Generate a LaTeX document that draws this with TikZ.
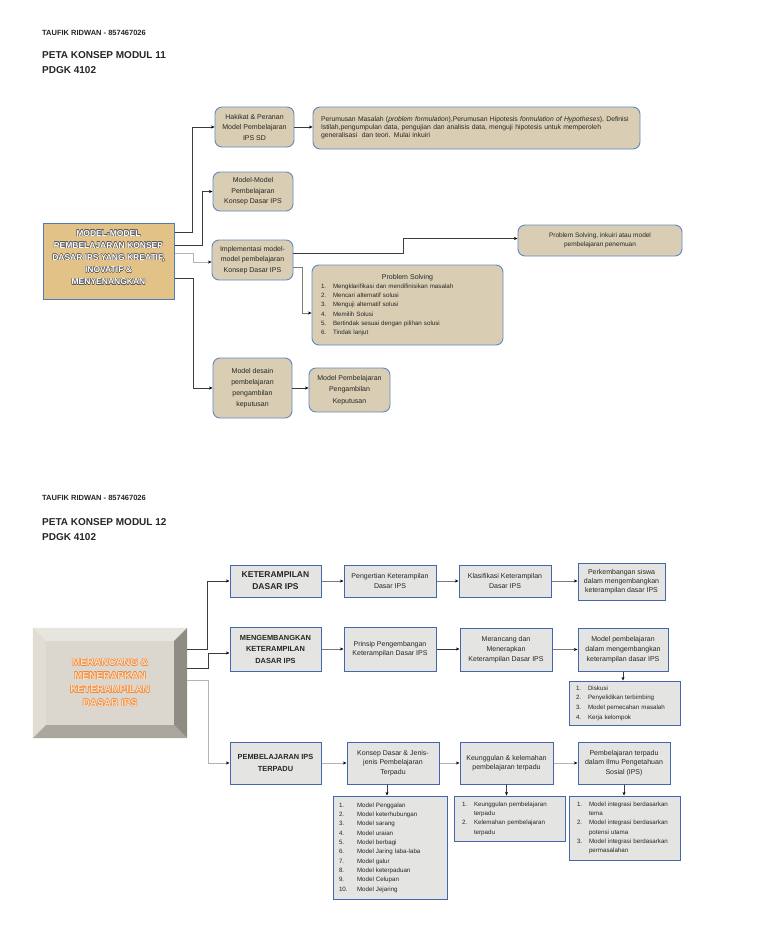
\documentclass[tikz,border=0pt]{standalone}
\usepackage{fontspec}
\setmainfont{Liberation Sans}
\usetikzlibrary{arrows.meta,calc}
\definecolor{tanfill}{HTML}{D9CEB3}
\definecolor{goldfill}{HTML}{E2C286}
\definecolor{topblue}{HTML}{6288C2}
\definecolor{mainblue}{HTML}{4F7AB8}
\definecolor{botblue}{HTML}{4267AA}
\definecolor{granite}{HTML}{E4E4E2}
\definecolor{lineA}{HTML}{3C3C3C}
\definecolor{lineB}{HTML}{7A7A7A}
\definecolor{lineC}{HTML}{B4B4B4}
\definecolor{txt}{HTML}{262626}
\definecolor{bevface}{HTML}{DCD7CE}
\definecolor{bevtop}{HTML}{E8E5DE}
\definecolor{bevleft}{HTML}{E1DDD5}
\definecolor{bevright}{HTML}{8F8C84}
\definecolor{bevbot}{HTML}{ABA79E}
\definecolor{orangeol}{HTML}{F08A3A}
\definecolor{orangefill}{HTML}{FCDCC0}
\definecolor{greyol}{HTML}{5A5A5A}
\tikzset{
 tbox/.style={draw=topblue, fill=tanfill, rounded corners=7pt, line width=0.9pt, align=center, inner sep=1pt, text=txt, font=\fontsize{7}{10.5}\selectfont},
 bbox/.style={draw=botblue, fill=granite, line width=1pt, align=center, inner sep=1pt, text=txt, font=\fontsize{7}{9.5}\selectfont},
 lbox/.style={bbox, align=left, inner ysep=0pt, font=\fontsize{6.2}{9.3}\selectfont},
 conn/.style={line width=0.6pt, -{Stealth[length=3.6pt,width=3pt,color=black]}},
 headline/.style={inner sep=0pt, text=txt, font=\fontsize{7.5}{9}\selectfont\bfseries},
 headtitle/.style={inner sep=0pt, text=txt, font=\fontsize{10}{15}\selectfont\bfseries},
}
\newcommand\itm[2]{\makebox[12pt][l]{#1}#2}
\newcommand\itmw[2]{\makebox[18pt][l]{#1}#2}
\newcommand\olt[6]{%
 \foreach \dx/\dy in {0.5/0,-0.5/0,0/0.5,0/-0.5,0.35/0.35,-0.35/0.35,0.35/-0.35,-0.35/-0.35}{
  \node[align=center,text=#3,font={#5},inner sep=0pt] at ($(#2)+(\dx pt,\dy pt)$) {#6};}
 \node[align=center,text=#4,font={#5},inner sep=0pt] (#1) at (#2) {#6};}
\begin{document}
\begin{tikzpicture}[x=1pt,y=-1pt]
\useasboundingbox[fill=white] (0,0) rectangle (768,932);

% ---------- Module 11 ----------
\node[headline,anchor=west] (au1) at (42,33) {TAUFIK RIDWAN - 857467026};
\node[headtitle,anchor=base west] (ti1) at (42,58.3) {PETA KONSEP MODUL 11};
\node[headtitle,anchor=base west] (pd1) at (42,73.3) {PDGK 4102};

\node[draw=mainblue, fill=goldfill, line width=1pt, minimum width=131pt, minimum height=76pt, inner sep=0pt] (main1) at (108.5,261) {};
\coordinate (m1c) at (108.5,257.5);
\olt{main1t}{m1c}{greyol}{white}{\fontsize{8.5}{12.2}\selectfont\bfseries}{MODEL-MODEL\\PEMBELAJARAN KONSEP\\DASAR IPS YANG KREATIF,\\INOVATIF \&\\MENYENANGKAN}

\node[tbox, minimum width=79pt, minimum height=40pt] (h1) at (254.5,127) {Hakikat \& Peranan\\Model Pembelajaran\\IPS SD};
\node[tbox, minimum width=80pt, minimum height=39pt] (h2) at (253,191.5) {Model-Model\\Pembelajaran\\Konsep Dasar IPS};
\node[tbox, minimum width=81pt, minimum height=40pt] (h3) at (252.5,260) {Implementasi model-\\model pembelajaran\\Konsep Dasar IPS};
\node[tbox, minimum width=79pt, minimum height=60pt, font=\fontsize{7}{11}\selectfont] (h4) at (252.5,388) {Model desain\\pembelajaran\\pengambilan\\keputusan};
\node[tbox, minimum width=327pt, minimum height=42pt, align=left, text width=311pt, inner xsep=8pt, font=\fontsize{6.8}{8}\selectfont] (peru) at (476.5,128) {\mbox{Perumusan Masalah (\textit{problem formulation}),Perumusan Hipotesis \textit{formulation of Hypotheses}), Definisi}\\\mbox{Istilah,pengumpulan data, pengujian dan analisis data, menguji hipotesis untuk memperoleh}\\\mbox{generalisasi\ \ dan teori. Mulai inkuiri}};
\node[tbox, minimum width=164pt, minimum height=31pt, font=\fontsize{6.5}{9}\selectfont] (psinq) at (600,240.5) {Problem Solving, inkuiri atau model\\pembelajaran penemuan};
\node[tbox, minimum width=191pt, minimum height=80pt, align=left, text width=173pt, inner xsep=9pt, inner ysep=0pt, font=\fontsize{6.2}{9.2}\selectfont] (pslist) at (407.5,305) {\noindent\hfill{\fontsize{7}{10}\selectfont Problem Solving}\hfill\mbox{}\\
\itm{1.}{Mengklarifikasi dan mendifinisikan masalah}\\
\itm{2.}{Mencari alternatif solusi}\\
\itm{3.}{Menguji alternatif solusi}\\
\itm{4.}{Memilih Solusi}\\
\itm{5.}{Bertindak sesuai dengan pilihan solusi}\\
\itm{6.}{Tindak lanjut}};
\node[tbox, minimum width=81pt, minimum height=44pt, font=\fontsize{7}{11.5}\selectfont] (mpk) at (349.5,390) {Model Pembelajaran\\Pengambilan\\Keputusan};

\draw[conn,lineA] ([yshift=29pt]main1.east) -- ++(18,0) |- (h1.west);
\draw[conn,lineA] ([yshift=16pt]main1.east) -- ++(28,0) |- (h2.west);
\draw[conn,lineC] ([yshift=8pt]main1.east) -- ++(19,0) |- ([yshift=-2pt]h3.west);
\draw[conn,lineA] ([yshift=-17pt]main1.east) -- ++(19,0) |- (h4.west);
\draw[conn,lineA] (h1.east) -- (h1.east -| peru.west);
\draw[conn,lineA] ([yshift=7pt]h3.east) -- ++(110,0) |- ([yshift=2pt]psinq.west);
\draw[conn,lineB] ([yshift=-7pt]h3.east) -- ++(9,0) |- ([yshift=-8pt]pslist.west);
\draw[conn,lineA] (h4.east) -- (h4.east -| mpk.west);

% ---------- Module 12 ----------
\node[headline,anchor=west] (au2) at (42,498) {TAUFIK RIDWAN - 857467026};
\node[headtitle,anchor=base west] (ti2) at (42,525) {PETA KONSEP MODUL 12};
\node[headtitle,anchor=base west] (pd2) at (42,540) {PDGK 4102};

\node[inner sep=0pt, minimum width=154pt, minimum height=110pt, fill=bevface] (main2) at (110,683) {};
\fill[bevtop] (main2.north west) -- (main2.north east) -- ($(main2.north east)+(-13,13)$) -- ($(main2.north west)+(13,13)$) -- cycle;
\fill[bevleft] (main2.north west) -- ($(main2.north west)+(13,13)$) -- ($(main2.south west)+(13,-13)$) -- (main2.south west) -- cycle;
\fill[bevright] (main2.north east) -- (main2.south east) -- ($(main2.south east)+(-13,-13)$) -- ($(main2.north east)+(-13,13)$) -- cycle;
\fill[bevbot] (main2.south west) -- (main2.south east) -- ($(main2.south east)+(-13,-13)$) -- ($(main2.south west)+(13,-13)$) -- cycle;
\coordinate (m2c) at (110,682.5);
\olt{main2t}{m2c}{orangeol}{orangefill}{\fontsize{10}{13.6}\selectfont\bfseries}{MERANCANG \&\\MENERAPKAN\\KETERAMPILAN\\DASAR IPS}

\node[bbox, minimum width=91pt, minimum height=32pt, font=\fontsize{8.5}{12}\selectfont\bfseries] (r1a) at (275.5,581) {KETERAMPILAN\\DASAR IPS};
\node[bbox, minimum width=92pt, minimum height=32pt] (r1b) at (390,581) {Pengertian Keterampilan\\Dasar IPS};
\node[bbox, minimum width=92pt, minimum height=32pt] (r1c) at (505,581) {Klasifikasi Keterampilan\\Dasar IPS};
\node[bbox, minimum width=87pt, minimum height=37pt, font=\fontsize{7}{9}\selectfont] (r1d) at (621.5,581.5) {Perkembangan siswa\\dalam mengembangkan\\keterampilan dasar IPS};

\node[bbox, minimum width=91pt, minimum height=44pt, font=\fontsize{7.4}{11.5}\selectfont\bfseries] (r2a) at (275.5,649) {MENGEMBANGKAN\\KETERAMPILAN\\DASAR IPS};
\node[bbox, minimum width=92pt, minimum height=44pt] (r2b) at (390,649) {Prinsip Pengembangan\\Keterampilan Dasar IPS};
\node[bbox, minimum width=92pt, minimum height=43pt, font=\fontsize{7}{9.7}\selectfont] (r2c) at (506,649.5) {Merancang dan\\Menerapkan\\Keterampilan Dasar IPS};
\node[bbox, minimum width=90pt, minimum height=43pt, font=\fontsize{7}{9.7}\selectfont] (r2d) at (623,649.5) {Model pembelajaran\\dalam mengembangkan\\keterampilan dasar IPS};
\node[lbox, minimum width=111pt, minimum height=44pt, text width=97pt, inner xsep=7pt, font=\fontsize{6.2}{9.6}\selectfont] (r2l) at (624.5,703) {\noindent\itm{1.}{Diskusi}\\\itm{2.}{Penyelidikan terbimbing}\\\itm{3.}{Model pemecahan masalah}\\\itm{4.}{Kerja kelompok}};

\node[bbox, minimum width=91pt, minimum height=42pt, font=\fontsize{7.4}{11.5}\selectfont\bfseries] (r3a) at (275.5,763) {PEMBELAJARAN IPS\\TERPADU};
\node[bbox, minimum width=92pt, minimum height=42pt, font=\fontsize{7}{9.7}\selectfont] (r3b) at (393,763) {Konsep Dasar \& Jenis-\\jenis Pembelajaran\\Terpadu};
\node[bbox, minimum width=93pt, minimum height=42pt] (r3c) at (506.5,763) {Keunggulan \& kelemahan\\pembelajaran terpadu};
\node[bbox, minimum width=92pt, minimum height=42pt, font=\fontsize{7}{9.7}\selectfont] (r3d) at (624,763) {Pembelajaran terpadu\\dalam Ilmu Pengetahuan\\Sosial (IPS)};

\node[lbox, minimum width=114pt, minimum height=103pt, text width=102pt, inner xsep=6pt, font=\fontsize{6.2}{9.33}\selectfont] (l3b) at (390,847.5) {\noindent\itmw{1.}{Model Penggalan}\\\itmw{2.}{Model keterhubungan}\\\itmw{3.}{Model sarang}\\\itmw{4.}{Model uraian}\\\itmw{5.}{Model berbagi}\\\itmw{6.}{Model Jaring laba-laba}\\\itmw{7.}{Model galur}\\\itmw{8.}{Model keterpaduan}\\\itmw{9.}{Model Celupan}\\\itmw{10.}{Model Jejaring}};
\node[lbox, minimum width=111pt, minimum height=45pt, text width=95pt, inner xsep=8pt] (l3c) at (509.5,818.5) {\noindent\itm{1.}{Keunggulan pembelajaran}\\\itm{}{terpadu}\\\itm{2.}{Kelemahan pembelajaran}\\\itm{}{terpadu}};
\node[lbox, minimum width=111pt, minimum height=64pt, text width=95pt, inner xsep=8pt] (l3d) at (624.5,828) {\noindent\itm{1.}{Model integrasi berdasarkan}\\\itm{}{tema}\\\itm{2.}{Model integrasi berdasarkan}\\\itm{}{potensi utama}\\\itm{3.}{Model integrasi berdasarkan}\\\itm{}{permasalahan}};

\draw[conn,lineA] ([yshift=34pt]main2.east) -- ++(20,0) |- (r1a.west);
\draw[conn,lineA] ([yshift=15pt]main2.east) -- ++(21,0) |- ([yshift=-4pt]r2a.west);
\draw[conn,lineC] ([yshift=3pt]main2.east) -- ++(21,0) |- (r3a.west);

\draw[conn,lineB] (r1a.east) -- (r1a.east -| r1b.west);
\draw[conn,lineB] (r1b.east) -- (r1b.east -| r1c.west);
\draw[conn,lineB] (r1c.east) -- (r1c.east -| r1d.west);
\draw[conn,lineB] (r2a.east) -- (r2a.east -| r2b.west);
\draw[conn,lineA] (r2b.east) -- (r2b.east -| r2c.west);
\draw[conn,lineB] (r2c.east) -- (r2c.east -| r2d.west);
\draw[conn,lineC] (r3a.east) -- (r3a.east -| r3b.west);
\draw[conn,lineC] (r3b.east) -- (r3b.east -| r3c.west);
\draw[conn,lineC] (r3c.east) -- (r3c.east -| r3d.west);

\draw[conn,lineA] (r2d.south) -- (r2d.south |- r2l.north);
\coordinate (b3s) at ([xshift=-6pt]r3b.south);
\draw[conn,lineA] (b3s) -- (b3s |- l3b.north);
\draw[conn,lineA] (r3c.south) -- (r3c.south |- l3c.north);
\draw[conn,lineA] (r3d.south) -- (r3d.south |- l3d.north);
\end{tikzpicture}
\end{document}
